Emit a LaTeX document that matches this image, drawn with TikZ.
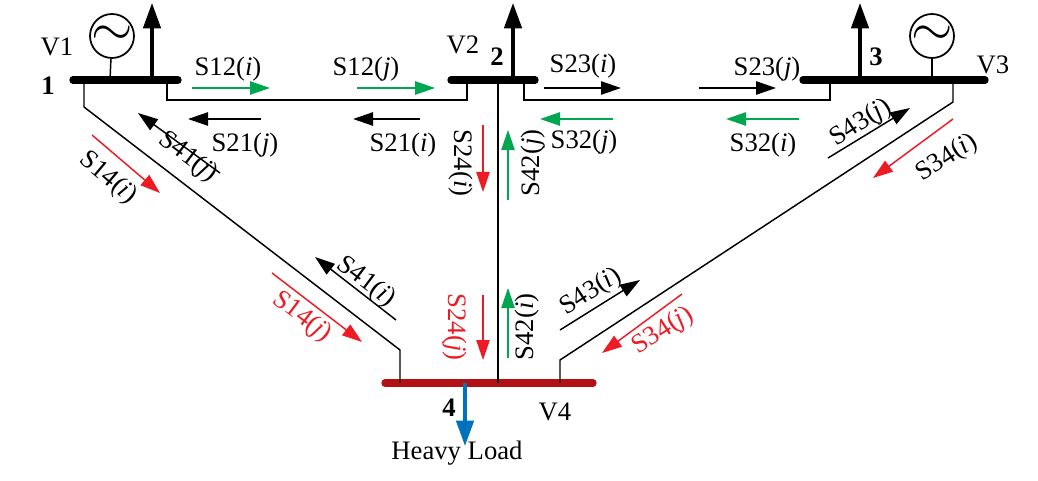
\documentclass[tikz,border=0pt]{standalone}
\usepackage{fontspec}
\setmainfont{Liberation Serif}
\usetikzlibrary{arrows.meta}
\definecolor{grn}{RGB}{0,166,80}
\definecolor{rd}{RGB}{237,28,36}
\definecolor{busred}{RGB}{178,18,22}
\definecolor{blu}{RGB}{0,114,188}
\begin{document}
\begin{tikzpicture}[x=0.75pt,y=-0.75pt,
  bus/.style={line width=5.5pt,line cap=round},
  ln/.style={line width=1.1pt},
  fl/.style={line width=1.1pt,-{Triangle[length=15pt,width=10pt]}},
  up/.style={line width=2.6pt,-{Triangle[length=19pt,width=13pt]}},
  lb/.style={font=\fontsize{20}{22}\selectfont,inner sep=0pt},
  bn/.style={font=\fontsize{20}{22}\selectfont\bfseries,inner sep=0pt},
  gen/.style={circle,draw,line width=1.3pt,minimum size=33pt,inner sep=0pt}]
\useasboundingbox (0,0) rectangle (1038,481);
% buses
\coordinate (b1a) at (73,80); \coordinate (b1b) at (178,80);
\coordinate (b2a) at (451,80); \coordinate (b2b) at (535,80);
\coordinate (b3a) at (803,80); \coordinate (b3b) at (985,80);
\coordinate (b4a) at (385,383); \coordinate (b4b) at (593,383);
\draw[bus] (b1a) -- (b1b);
\draw[bus] (b2a) -- (b2b);
\draw[bus] (b3a) -- (b3b);
\draw[bus,busred,line width=5.5pt] (b4a) -- (b4b);
% generators
\node[gen] (g1) at (112,36) {};
\node[gen] (g3) at (932,36) {};
\node[inner sep=0pt] (s1) at (112,36) {\scalebox{4}{$\sim$}};
\node[inner sep=0pt] (s3) at (932,36) {\scalebox{4}{$\sim$}};
\coordinate (g1b) at (110,80); \coordinate (g3b) at (932,80);
\draw[ln] (g1) -- (g1b);
\draw[ln] (g3) -- (g3b);
% loads up
\coordinate (l1a) at (152,80); \coordinate (l1b) at (152,3);
\coordinate (l2a) at (513,80); \coordinate (l2b) at (513,3);
\coordinate (l3a) at (860,80); \coordinate (l3b) at (860,3);
\draw[up] (l1a) -- (l1b);
\draw[up] (l2a) -- (l2b);
\draw[up] (l3a) -- (l3b);
\coordinate (l4a) at (465,383); \coordinate (l4b) at (465,446);
\draw[up,blu] (l4a) -- (l4b);
% lines
\coordinate (p12a) at (167,80); \coordinate (p12b) at (467,80);
\draw[ln] (p12a) -- ++(0,20) -| (p12b);
\coordinate (p23a) at (524,80); \coordinate (p23b) at (830,80);
\draw[ln] (p23a) -- ++(0,20) -| (p23b);
\coordinate (p24a) at (498,80); \coordinate (p24b) at (498,383);
\draw[ln] (p24a) -- (p24b);
\coordinate (p14a) at (84,80); \coordinate (p14b) at (400,383);
\draw[ln] (p14a) -- (84,107) -- (400,350) -- (p14b);
\coordinate (p34a) at (953,80); \coordinate (p34b) at (560,383);
\draw[ln] (p34a) -- (953,102) -- (560,360) -- (p34b);
% labels
\node[lb] (v1) at (57,47) {V1};
\node[bn] (n1) at (48,86) {1};
\node[lb] (v2) at (463,45) {V2};
\node[bn] (n2) at (497,57) {2};
\node[bn] (n3) at (876,57) {3};
\node[lb] (v3) at (993,65) {V3};
\node[bn] (n4) at (449,408) {4};
\node[lb] (v4) at (555,412) {V4};
\node[lb] (hl) at (457,453) {Heavy Load};
% flow arrows
\coordinate (a1) at (192,88); \coordinate (a2) at (270,88);
\draw[fl,grn] (a1) -- (a2); \node[lb] (t1) at (228,69) {S12(\textit{i})};
\coordinate (a3) at (357,88); \coordinate (a4) at (435,88);
\draw[fl,grn] (a3) -- (a4); \node[lb] (t2) at (366,69) {S12(\textit{j})};
\coordinate (a5) at (261,119); \coordinate (a6) at (188,119);
\draw[fl] (a5) -- (a6); \node[lb] (t3) at (245,145) {S21(\textit{j})};
\coordinate (a7) at (420,119); \coordinate (a8) at (353,119);
\draw[fl] (a7) -- (a8); \node[lb] (t4) at (403,145) {S21(\textit{i})};
\coordinate (a9) at (544,88); \coordinate (a10) at (621,88);
\draw[fl] (a9) -- (a10); \node[lb] (t5) at (583,66) {S23(\textit{i})};
\coordinate (a11) at (699,88); \coordinate (a12) at (776,88);
\draw[fl] (a11) -- (a12); \node[lb] (t6) at (767,69) {S23(\textit{j})};
\coordinate (a13) at (613,119); \coordinate (a14) at (540,119);
\draw[fl,grn] (a13) -- (a14); \node[lb] (t7) at (584,142) {S32(\textit{j})};
\coordinate (a15) at (799,119); \coordinate (a16) at (726,119);
\draw[fl,grn] (a15) -- (a16); \node[lb] (t8) at (763,145) {S32(\textit{i})};
\coordinate (a17) at (483,125); \coordinate (a18) at (483,192);
\draw[fl,rd] (a17) -- (a18); \node[lb,rotate=-90] (t9) at (461,163) {S24(\textit{i})};
\coordinate (a19) at (508,200); \coordinate (a20) at (508,130);
\draw[fl,grn] (a19) -- (a20); \node[lb,rotate=90] (t10) at (533,163) {S42(\textit{j})};
\coordinate (a21) at (92,135); \coordinate (a22) at (160,193);
\draw[fl,rd] (a21) -- (a22); \node[lb,rotate=-40] (t11) at (108,178) {S14(\textit{i})};
\coordinate (a23) at (220,173); \coordinate (a24) at (138,113);
\draw[fl] (a23) -- (a24); \node[lb,rotate=-37] (t12) at (188,157) {S41(\textit{j})};
\coordinate (a25) at (828,158); \coordinate (a26) at (910,108);
\draw[fl] (a25) -- (a26); \node[lb,rotate=33] (t13) at (861,123) {S43(\textit{j})};
\coordinate (a27) at (953,119); \coordinate (a28) at (873,178);
\draw[fl,rd] (a27) -- (a28); \node[lb,rotate=33] (t14) at (947,158) {S34(\textit{i})};
\coordinate (a29) at (396,320); \coordinate (a30) at (315,257);
\draw[fl] (a29) -- (a30); \node[lb,rotate=-37] (t15) at (366,282) {S41(\textit{i})};
\coordinate (a31) at (272,273); \coordinate (a32) at (362,342);
\draw[fl,rd] (a31) -- (a32); \node[lb,rotate=-37,rd] (t16) at (302,317) {S14(\textit{j})};
\coordinate (a33) at (483,295); \coordinate (a34) at (483,360);
\draw[fl,rd] (a33) -- (a34); \node[lb,rotate=-90,rd] (t17) at (455,327) {S24(\textit{j})};
\coordinate (a35) at (508,358); \coordinate (a36) at (508,288);
\draw[fl,grn] (a35) -- (a36); \node[lb,rotate=90] (t18) at (527,327) {S42(\textit{i})};
\coordinate (a37) at (560,330); \coordinate (a38) at (640,280);
\draw[fl] (a37) -- (a38); \node[lb,rotate=33] (t19) at (591,292) {S43(\textit{i})};
\coordinate (a39) at (682,294); \coordinate (a40) at (602,353);
\draw[fl,rd] (a39) -- (a40); \node[lb,rotate=33,rd] (t20) at (663,331) {S34(\textit{j})};
\end{tikzpicture}
\end{document}
